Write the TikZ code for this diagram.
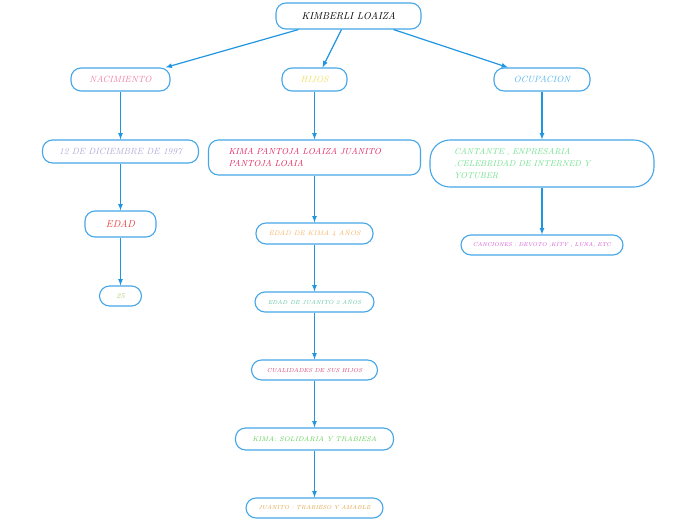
\documentclass[tikz,border=0pt]{standalone}
\usepackage{amsmath}
\usepackage{tikz}
\usetikzlibrary{arrows}

\definecolor{borde}{HTML}{45A6E8}
\definecolor{flecha}{HTML}{2196E0}
\definecolor{rosa}{HTML}{F27FA8}
\definecolor{amarillo}{HTML}{F2E060}
\definecolor{celeste}{HTML}{55B5EE}
\definecolor{lavanda}{HTML}{B2A9D9}
\definecolor{carmin}{HTML}{E2215C}
\definecolor{verdeclaro}{HTML}{6FE08E}
\definecolor{rojo}{HTML}{E94444}
\definecolor{lima}{HTML}{A9CF6F}
\definecolor{naranja}{HTML}{F5B262}
\definecolor{turquesa}{HTML}{5EC6A2}
\definecolor{frambuesa}{HTML}{D2416F}
\definecolor{verde}{HTML}{5FCF52}
\definecolor{ocre}{HTML}{E0A23F}
\definecolor{magenta}{HTML}{D250D2}

\begin{document}
\begin{tikzpicture}[x=1pt,y=-1pt,
  caja/.style={draw=borde,line width=1.1pt,rounded corners=10pt,fill=white,inner sep=0pt},
  flechaa/.style={draw=flecha,line width=1.2pt,-latex}]
%marco del dibujo
\useasboundingbox (0,0) rectangle (697,520);

%Caja principal
\node[caja,minimum width=145pt,minimum height=26pt,font=\fontsize{10}{12}\selectfont\itshape] (kim) at (348.5,16) {KIMBERLI LOAIZA};

%Primer nivel
\node[caja,minimum width=99pt,minimum height=23pt,text=rosa,font=\fontsize{9}{11}\selectfont\itshape] (nac) at (120.5,79.5) {NACIMIENTO};
\node[caja,minimum width=65pt,minimum height=23pt,text=amarillo,font=\fontsize{9}{11}\selectfont\itshape] (hij) at (314.5,79.5) {HIJOS};
\node[caja,minimum width=96pt,minimum height=23pt,text=celeste,font=\fontsize{9}{11}\selectfont\itshape] (ocu) at (542,79.5) {OCUPACION};

%Rama de nacimiento
\node[caja,minimum width=156pt,minimum height=23pt,text=lavanda,font=\fontsize{9}{11}\selectfont\itshape] (fec) at (120.5,151.5) {12 DE DICIEMBRE DE 1997};
\node[caja,minimum width=71pt,minimum height=26pt,text=rojo,font=\fontsize{10}{12}\selectfont\itshape] (eda) at (120.5,224) {EDAD};
\node[caja,minimum width=42pt,minimum height=20pt,text=lima,font=\fontsize{7.5}{9}\selectfont\itshape] (vei) at (120.5,296) {25};

%Rama de hijos
\node[caja,minimum width=212pt,minimum height=35pt,text width=172pt,align=left,text=carmin,font=\fontsize{8.7}{11.5}\selectfont\itshape] (nom) at (314.5,157.5) {KIMA PANTOJA LOAIZA JUANITO\\PANTOJA LOAIA};
\node[caja,minimum width=117pt,minimum height=21pt,text=naranja,font=\fontsize{6.6}{8}\selectfont\itshape] (kia) at (314.5,233.5) {EDAD DE KIMA 4 AÑOS};
\node[caja,minimum width=119pt,minimum height=20pt,text=turquesa,font=\fontsize{5.8}{7}\selectfont\itshape] (jua) at (314.5,302) {EDAD DE JUANITO 2 AÑOS};
\node[caja,minimum width=126pt,minimum height=20pt,text=frambuesa,font=\fontsize{5.8}{7}\selectfont\itshape] (cua) at (314.5,370) {CUALIDADES DE SUS HIJOS};
\node[caja,minimum width=158pt,minimum height=22pt,text=verde,font=\fontsize{6.7}{8}\selectfont\itshape] (kis) at (314.5,439) {KIMA: SOLIDARIA Y TRABIESA};
\node[caja,minimum width=137pt,minimum height=20pt,text=ocre,font=\fontsize{5.7}{7}\selectfont\itshape] (jut) at (314.5,508) {JUANITO : TRABIESO Y AMABLE};

%Rama de ocupacion
\node[caja,rounded corners=20pt,minimum width=224pt,minimum height=47pt,text width=176pt,align=left,text=verdeclaro,font=\fontsize{8.5}{12}\selectfont\itshape] (can) at (542,163.5) {CANTANTE , ENPRESARIA\\.CELEBRIDAD DE INTERNED Y\\YOTUBER};
\node[caja,minimum width=162pt,minimum height=20pt,text=magenta,font=\fontsize{5.5}{7}\selectfont\itshape] (cnc) at (542,245) {CANCIONES : DEVOTO ,KITY , LUNA, ETC};

%Flechas desde la caja principal
\draw[flechaa] ([xshift=-50pt]kim.south) -- ([xshift=45pt]nac.north);
\draw[flechaa] ([xshift=-7pt]kim.south) -- ([xshift=8pt]hij.north);
\draw[flechaa] ([xshift=45pt]kim.south) -- ([xshift=-34pt]ocu.north);

%Flechas verticales
\draw[flechaa] (nac) -- (fec);
\draw[flechaa] (fec) -- (eda);
\draw[flechaa] (eda) -- (vei);
\draw[flechaa] (hij) -- (nom);
\draw[flechaa] (nom) -- (kia);
\draw[flechaa] (kia) -- (jua);
\draw[flechaa] (jua) -- (cua);
\draw[flechaa] (cua) -- (kis);
\draw[flechaa] (kis) -- (jut);
\draw[flechaa] (ocu) -- (can);
\draw[flechaa] (can) -- (cnc);
\end{tikzpicture}
\end{document}
